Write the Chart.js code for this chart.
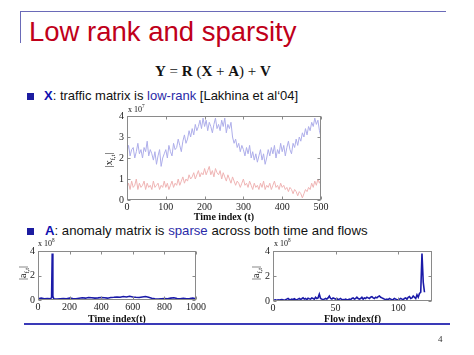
<!DOCTYPE html>
<html><head><meta charset="utf-8">
<script src="https://cdn.jsdelivr.net/npm/chart.js@4"></script>
<style>
html,body{margin:0;padding:0;background:#fff;}
body{width:474px;height:355px;position:relative;overflow:hidden;font-family:"Liberation Sans",Arial,sans-serif;}
.abs{position:absolute;white-space:nowrap;line-height:1;}
canvas{position:absolute;}
.serif{font-family:"Liberation Serif","Times New Roman",serif;}
.bul{position:absolute;width:7px;height:7px;background:#1c1ca0;}
.rot{position:absolute;white-space:nowrap;line-height:1;transform:translate(-50%,-50%) rotate(-90deg);font-family:"Liberation Serif",serif;font-size:10px;color:#111;}
sub,sup{font-size:65%;line-height:0;}
</style></head><body>
<div class="abs" style="left:20px;top:11px;width:426px;height:0;border-top:1.5px solid #6a6ab8;"></div>
<div class="abs" style="left:20px;top:11px;width:0;height:32px;border-left:1.5px solid #6a6ab8;"></div>
<div class="abs" style="left:29px;top:18px;font-size:27.5px;color:#c0001a;">Low rank and sparsity</div>
<div class="abs serif" style="left:155px;top:64px;font-size:15px;color:#111;"><b>Y</b> = <b>R</b> (<b>X</b> + <b>A</b>) + <b>V</b></div>
<div class="bul" style="left:27px;top:93px;"></div>
<div class="abs" style="left:44px;top:89px;font-size:13px;color:#111;"><b style="color:#1010b0">X</b>: traffic matrix is <span style="color:#2a2aa8">low-rank</span> [Lakhina et al‘04]</div>
<div class="bul" style="left:27px;top:228px;"></div>
<div class="abs" style="left:45px;top:224px;font-size:13.2px;color:#111;"><b style="color:#1010b0">A</b>: anomaly matrix is <span style="color:#2a2aa8">sparse</span> across both time and flows</div>

<canvas id="c1" width="236" height="121" style="left:100px;top:104px;"></canvas>
<canvas id="c2" width="196" height="87" style="left:14px;top:240px;"></canvas>
<canvas id="c3" width="196" height="87" style="left:250px;top:240px;"></canvas>

<div class="abs serif" style="left:128px;top:106px;font-size:8px;color:#111;">x 10<sup>7</sup></div>
<div class="abs serif" style="left:38px;top:240px;font-size:8px;color:#111;">x 10<sup>8</sup></div>
<div class="abs serif" style="left:274px;top:240px;font-size:8px;color:#111;">x 10<sup>8</sup></div>
<div class="rot" style="left:109px;top:160px;">|x<sub>f,t</sub>|</div>
<div class="rot" style="left:23px;top:273px;">|a<sub>f,t</sub>|</div>
<div class="rot" style="left:256px;top:273px;">|a<sub>f,t</sub>|</div>

<div class="abs" style="left:24px;top:323px;width:426px;height:0;border-top:2px solid #3a3ab8;"></div>
<div class="abs serif" style="left:438px;top:335px;font-size:9px;color:#333;">4</div>

<script>
// ---- data ----
const topTime = [0,4,8,12,16,20,24,28,32,36,40,44,48,52,56,60,64,68,72,76,80,84,88,92,96,
  100,104,108,112,116,120,124,128,132,136,140,144,148,152,156,160,164,168,172,176,180,184,188,192,196,
  200,204,208,212,216,220,224,228,232,236,240,244,248,252,256,260,264,268,272,276,280,284,288,292,296,
  300,304,308,312,316,320,324,328,332,336,340,344,348,352,356,360,364,368,372,376,380,384,388,392,396,
  400,404,408,412,416,420,424,428,432,436,440,444,448,452,456,460,464,468,472,476,480,484,488,492,496,500];
const trafficBlue = [2.3,2.6,2.1,2.4,2.5,2.0,2.3,2.7,2.2,2.4,2.0,2.5,2.3,2.8,2.1,2.4,2.2,1.9,2.3,1.7,2.1,2.4,1.6,2.0,2.2,
  2.4,2.0,2.6,2.3,2.1,2.7,2.4,2.5,2.9,2.6,2.3,2.8,3.1,2.7,2.9,3.3,3.0,3.4,3.1,3.6,3.3,3.5,3.8,3.4,3.9,
  3.5,3.8,3.3,3.7,3.5,3.2,3.6,3.9,3.4,3.6,3.3,3.8,3.5,3.9,3.2,3.6,3.4,3.7,3.0,2.7,2.9,2.5,2.7,2.3,2.6,
  2.4,2.1,2.5,2.2,2.6,2.0,2.3,1.9,2.2,1.8,2.1,2.4,1.9,2.2,1.7,2.0,2.4,2.1,2.5,2.2,2.6,2.0,2.4,2.2,2.7,
  2.3,2.6,2.1,2.5,2.8,2.4,2.2,2.7,2.5,2.9,2.6,3.0,2.8,3.2,3.0,3.4,3.1,3.5,3.3,3.7,3.5,3.9,3.6,3.8,3.3,3.0];
const trafficRed = [0.6,0.8,0.5,0.9,0.6,0.7,1.0,0.5,0.8,0.6,0.7,0.9,0.5,0.8,0.6,0.7,0.5,0.9,0.6,0.7,0.8,0.5,0.7,0.6,0.9,
  0.6,0.8,0.5,0.7,0.9,0.6,0.8,0.7,1.0,0.7,0.9,1.1,0.8,1.0,0.9,1.2,1.0,1.1,1.3,1.0,1.2,1.4,1.1,1.3,1.2,
  1.5,1.2,1.4,1.6,1.2,1.4,1.1,1.5,1.3,1.2,1.4,1.0,1.3,1.1,0.9,1.2,1.0,0.8,1.1,0.9,0.7,0.9,0.8,0.6,0.8,
  1.0,0.7,0.8,0.6,0.9,0.7,0.5,0.8,0.6,0.7,0.5,0.8,0.6,0.9,0.5,0.7,0.6,0.8,0.5,0.7,0.9,0.6,0.7,0.5,0.8,
  0.6,0.7,0.5,0.6,0.4,0.6,0.5,0.3,0.5,0.4,0.2,0.4,0.3,0.1,0.3,0.5,0.4,0.6,0.5,0.8,0.6,0.9,0.7,1.0,0.8,1.0];

const anomTime = [0,20,40,60,80,86,90,94,100,120,140,160,180,200,220,240,260,280,300,320,340,360,380,400,
  420,440,460,480,500,520,540,560,580,600,620,640,660,680,700,720,740,760,780,800,820,840,860,880,900,920,940,960,980,1000];
const anomOverTime = [0.1,0.15,0.1,0.12,0.1,0.2,3.8,0.3,0.1,0.08,0.1,0.12,0.1,0.15,0.12,0.1,0.14,0.18,0.15,0.2,0.18,0.15,0.17,0.2,
  0.18,0.15,0.2,0.22,0.25,0.22,0.28,0.25,0.3,0.25,0.22,0.2,0.25,0.28,0.22,0.15,0.1,0.08,0.1,0.12,0.1,0.15,0.18,0.12,0.1,0.14,0.1,0.12,0.15,0.1];

const flowIdx = [0,1,2,3,4,5,6,7,8,9,10,11,12,13,14,15,16,17,18,19,20,21,22,23,24,25,26,27,28,29,
  30,31,32,33,34,35,36,37,38,39,40,41,42,43,44,45,46,47,48,49,50,51,52,53,54,55,56,57,58,59,
  60,61,62,63,64,65,66,67,68,69,70,71,72,73,74,75,76,77,78,79,80,81,82,83,84,85,86,87,88,89,
  90,91,92,93,94,95,96,97,98,99,100,101,102,103,104,105,106,107,108,109,110,111,112,113,114,115,116,117,118,119,120,121];
const anomOverFlow = [0.1,0.08,0.1,0.05,0.1,0.08,0.1,0.12,0.1,0.05,
  0.1,0.15,0.2,0.12,0.1,0.15,0.1,0.18,0.12,0.1,
  0.15,0.2,0.12,0.18,0.25,0.15,0.2,0.1,0.22,0.18,
  0.15,0.25,0.2,0.15,0.3,0.2,0.25,0.55,0.2,0.15,
  0.1,0.15,0.2,0.15,0.25,0.4,0.2,0.15,0.25,0.2,
  0.15,0.2,0.1,0.15,0.2,0.1,0.12,0.1,0.15,0.1,
  0.1,0.15,0.1,0.2,0.25,0.15,0.2,0.3,0.2,0.15,
  0.2,0.3,0.15,0.25,0.2,0.3,0.25,0.2,0.3,0.35,
  0.25,0.2,0.3,0.25,0.35,0.4,0.3,0.25,0.2,0.15,
  0.1,0.15,0.1,0.2,0.15,0.1,0.12,0.2,0.15,0.1,
  0.1,0.15,0.2,0.15,0.1,0.2,0.25,0.15,0.3,0.35,
  0.2,0.25,0.4,0.3,0.2,0.5,0.3,0.6,0.7,3.8,1.5,0.7];

const topXTicks = [0,100,200,300,400,500];
const topYTicks = [0,1,2,3,4];
const timeXTicks = [0,200,400,600,800,1000];
const flowXTicks = [0,50,100];
const anomYTicks = [0,2,4];

// ---- helpers ----
const boxPlugin = {
  id:'matlabBox',
  afterDraw(chart){
    const {ctx, chartArea:a, scales} = chart;
    ctx.save();
    ctx.strokeStyle = '#8a8a8a'; ctx.lineWidth = 1;
    const L=Math.round(a.left)+0.5, T=Math.round(a.top)+0.5, R=Math.round(a.right)-0.5, B=Math.round(a.bottom)-0.5;
    ctx.strokeRect(L,T,R-L,B-T);
    ctx.beginPath();
    const t=3;
    scales.x.ticks.forEach(tk=>{const p=Math.round(scales.x.getPixelForValue(tk.value))+0.5;
      ctx.moveTo(p,B); ctx.lineTo(p,B-t); ctx.moveTo(p,T); ctx.lineTo(p,T+t);});
    scales.y.ticks.forEach(tk=>{const p=Math.round(scales.y.getPixelForValue(tk.value))+0.5;
      ctx.moveTo(L,p); ctx.lineTo(L+t,p); ctx.moveTo(R,p); ctx.lineTo(R-t,p);});
    ctx.stroke();
    ctx.restore();
  }
};
const pts = (xs, ys) => xs.map((x,i)=>({x, y: ys[i]}));
const tickFont = {family:'"Liberation Serif", serif', size:10};

function makeChart(id, datasets, cfg){
  return new Chart(document.getElementById(id), {
    type:'line',
    data:{datasets},
    plugins:[boxPlugin],
    options:{
      responsive:false, animation:false, events:[],
      layout:{padding:{left:0, top:cfg.padTop, right:cfg.padRight, bottom:0}},
      plugins:{legend:{display:false}, tooltip:{enabled:false}},
      elements:{point:{radius:0}, line:{tension:0}},
      scales:{
        x:{type:'linear', min:cfg.xMin, max:cfg.xMax,
          grid:{display:false, drawTicks:false}, border:{display:false},
          afterBuildTicks:s=>{s.ticks = cfg.xTicks.map(v=>({value:v}));},
          afterFit:s=>{s.height = cfg.xH;},
          ticks:{font:tickFont, color:'#222', padding:1, autoSkip:false, maxRotation:0, callback:v=>String(v)},
          title:{display:true, text:cfg.xTitle, color:'#111', padding:{top:0,bottom:2},
            font:{family:'"Liberation Serif", serif', size:10, weight:'bold'}}},
        y:{type:'linear', min:cfg.yMin, max:cfg.yMax,
          grid:{display:false, drawTicks:false}, border:{display:false},
          afterBuildTicks:s=>{s.ticks = cfg.yTicks.map(v=>({value:v}));},
          afterFit:s=>{s.width = cfg.yW;},
          ticks:{font:tickFont, color:'#222', padding:3, callback:v=>String(v)}}
      }
    }
  });
}

makeChart('c1', [
  {data:pts(topTime, trafficBlue), borderColor:'#aeaeea', borderWidth:1},
  {data:pts(topTime, trafficRed), borderColor:'#efb4b4', borderWidth:1}
], {padTop:12, padRight:15, xH:25, yW:27, xMin:0, xMax:500, yMin:0, yMax:4,
    xTicks:topXTicks, yTicks:topYTicks, xTitle:'Time index (t)'});

makeChart('c2', [
  {data:pts(anomTime, anomOverTime), borderColor:'#1a1aa8', borderWidth:1.6}
], {padTop:11, padRight:14, xH:27, yW:24, xMin:0, xMax:1000, yMin:0, yMax:4,
    xTicks:timeXTicks, yTicks:anomYTicks, xTitle:'Time index(t)'});

makeChart('c3', [
  {data:pts(flowIdx, anomOverFlow), borderColor:'#1a1aa8', borderWidth:1.6}
], {padTop:11, padRight:14, xH:26, yW:23, xMin:0, xMax:127, yMin:0, yMax:4,
    xTicks:flowXTicks, yTicks:anomYTicks, xTitle:'Flow index(f)'});
</script>
</body></html>
